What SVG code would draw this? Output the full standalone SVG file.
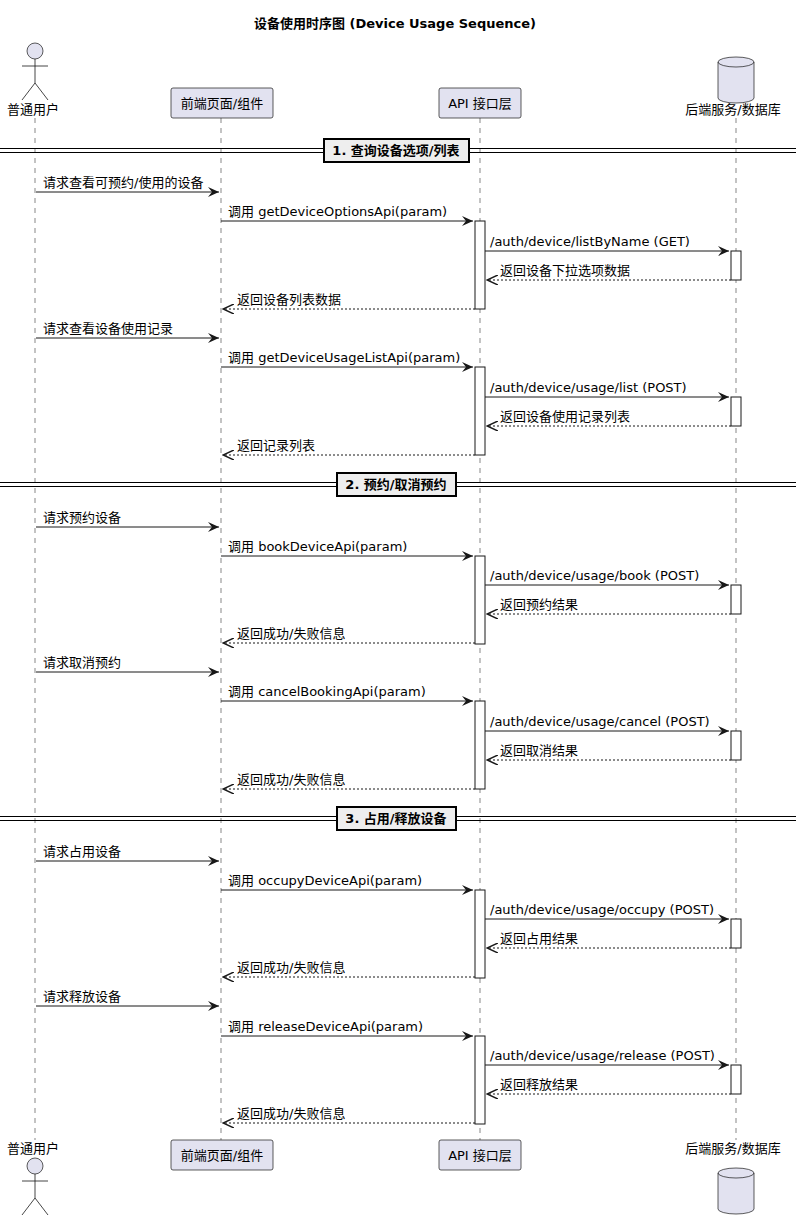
<svg xmlns="http://www.w3.org/2000/svg" width="796" height="1221" viewBox="0 0 796 1221">
<style>
text{font-family:"DejaVu Sans","Noto Sans CJK SC",sans-serif;font-size:13px;fill:#000}
.t{font-weight:bold;font-size:13px}
.life{stroke:#555;stroke-dasharray:5,5;stroke-width:0.7;fill:none}
.part{fill:#E2E2F0;stroke:#181818;stroke-width:0.7}
.act{fill:#fff;stroke:#181818;stroke-width:1}
.m{stroke:#181818;stroke-width:1;fill:none;marker-end:url(#a)}
.r{stroke:#181818;stroke-width:1;fill:none;stroke-dasharray:2,2;marker-end:url(#b)}
.sep{stroke:#000;stroke-width:1}
.sb{fill:#EEEEEE;stroke:#000;stroke-width:2}
</style>
<defs>
<marker id="a" markerWidth="12" markerHeight="10" refX="11" refY="5" orient="auto" markerUnits="userSpaceOnUse"><path d="M0,0 L11,5 L0,10 L4,5 Z" fill="#181818"/></marker>
<marker id="b" markerWidth="12" markerHeight="10" refX="11" refY="5" orient="auto" markerUnits="userSpaceOnUse"><path d="M0,0 L11,5 L0,10" fill="none" stroke="#181818" stroke-width="1.5"/></marker>
</defs>
<rect width="796" height="1221" fill="#fff"/>
<text class="t" x="395" y="28" text-anchor="middle">设备使用时序图 (Device Usage Sequence)</text>
<g id="lifelines">
<line class="life" x1="35" y1="118" x2="35" y2="1140"/>
<line class="life" x1="221" y1="118" x2="221" y2="1140"/>
<line class="life" x1="480" y1="118" x2="480" y2="1140"/>
<line class="life" x1="736" y1="118" x2="736" y2="1140"/>
</g>
<g id="user">
<circle class="part" cx="35" cy="51" r="8"/><path d="M35,59 V83 M22,66 H48 M35,83 L22,100 M35,83 L48,100" stroke="#181818" fill="none" stroke-width="0.8"/>
<text x="33" y="114" text-anchor="middle">普通用户</text>
<text x="33" y="1153" text-anchor="middle">普通用户</text>
<circle class="part" cx="35" cy="1166" r="8"/><path d="M35,1174 V1198 M22,1181 H48 M35,1198 L22,1215 M35,1198 L48,1215" stroke="#181818" fill="none" stroke-width="0.8"/>
</g>
<g id="frontend">
<rect class="part" x="171" y="88" width="102" height="30" rx="2"/><text x="222" y="108" text-anchor="middle">前端页面/组件</text>
<rect class="part" x="171" y="1140" width="102" height="30" rx="2"/><text x="222" y="1160" text-anchor="middle">前端页面/组件</text>
</g>
<g id="api">
<rect class="part" x="439" y="88" width="82" height="30" rx="2"/><text x="480" y="108" text-anchor="middle">API 接口层</text>
<rect class="part" x="439" y="1140" width="82" height="30" rx="2"/><text x="480" y="1160" text-anchor="middle">API 接口层</text>
</g>
<g id="backend">
<path class="part" d="M718,62 A18,5 0 0 1 754,62 V98 A18,5 0 0 1 718,98 Z"/><path d="M718,62 A18,5 0 0 0 754,62" fill="none" stroke="#181818" stroke-width="0.7"/>
<text x="733" y="114" text-anchor="middle">后端服务/数据库</text>
<text x="733" y="1153" text-anchor="middle">后端服务/数据库</text>
<path class="part" d="M718,1173 A18,5 0 0 1 754,1173 V1209 A18,5 0 0 1 718,1209 Z"/><path d="M718,1173 A18,5 0 0 0 754,1173" fill="none" stroke="#181818" stroke-width="0.7"/>
</g>
<g id="activations">
<rect class="act" x="475" y="221" width="10" height="88"/><rect class="act" x="731" y="251" width="10" height="29"/>
<rect class="act" x="475" y="367" width="10" height="88"/><rect class="act" x="731" y="397" width="10" height="29"/>
<rect class="act" x="475" y="556" width="10" height="88"/><rect class="act" x="731" y="585" width="10" height="29"/>
<rect class="act" x="475" y="701" width="10" height="88"/><rect class="act" x="731" y="731" width="10" height="29"/>
<rect class="act" x="475" y="890" width="10" height="88"/><rect class="act" x="731" y="919" width="10" height="29"/>
<rect class="act" x="475" y="1036" width="10" height="88"/><rect class="act" x="731" y="1065" width="10" height="29"/>
</g>
<g id="dividers">
<path class="sep" d="M0,148.5 H796 M0,152.5 H796 M0,482.5 H796 M0,486.5 H796 M0,816.5 H796 M0,820.5 H796"/>
<rect class="sb" x="324" y="139" width="145" height="23"/><text class="t" x="396" y="155" text-anchor="middle">1. 查询设备选项/列表</text>
<rect class="sb" x="337" y="473" width="119" height="23"/><text class="t" x="396" y="489" text-anchor="middle">2. 预约/取消预约</text>
<rect class="sb" x="337" y="807" width="119" height="23"/><text class="t" x="396" y="823" text-anchor="middle">3. 占用/释放设备</text>
</g>
<g id="connectors">
<line class="m" x1="36" y1="192" x2="219" y2="192"/><text x="43" y="187">请求查看可预约/使用的设备</text>
<line class="m" x1="221" y1="221" x2="473" y2="221"/><text x="228" y="216">调用 getDeviceOptionsApi(param)</text>
<line class="m" x1="485" y1="251" x2="729" y2="251"/><text x="490" y="246">/auth/device/listByName (GET)</text>
<line class="r" x1="731" y1="280" x2="487" y2="280"/><text x="500" y="275">返回设备下拉选项数据</text>
<line class="r" x1="475" y1="309" x2="223" y2="309"/><text x="237" y="304">返回设备列表数据</text>
<line class="m" x1="36" y1="338" x2="219" y2="338"/><text x="43" y="333">请求查看设备使用记录</text>
<line class="m" x1="221" y1="367" x2="473" y2="367"/><text x="228" y="362">调用 getDeviceUsageListApi(param)</text>
<line class="m" x1="485" y1="397" x2="729" y2="397"/><text x="490" y="392">/auth/device/usage/list (POST)</text>
<line class="r" x1="731" y1="426" x2="487" y2="426"/><text x="500" y="421">返回设备使用记录列表</text>
<line class="r" x1="475" y1="455" x2="223" y2="455"/><text x="237" y="450">返回记录列表</text>
<line class="m" x1="36" y1="527" x2="219" y2="527"/><text x="43" y="522">请求预约设备</text>
<line class="m" x1="221" y1="556" x2="473" y2="556"/><text x="228" y="551">调用 bookDeviceApi(param)</text>
<line class="m" x1="485" y1="585" x2="729" y2="585"/><text x="490" y="580">/auth/device/usage/book (POST)</text>
<line class="r" x1="731" y1="614" x2="487" y2="614"/><text x="500" y="609">返回预约结果</text>
<line class="r" x1="475" y1="643" x2="223" y2="643"/><text x="237" y="638">返回成功/失败信息</text>
<line class="m" x1="36" y1="672" x2="219" y2="672"/><text x="43" y="667">请求取消预约</text>
<line class="m" x1="221" y1="701" x2="473" y2="701"/><text x="228" y="696">调用 cancelBookingApi(param)</text>
<line class="m" x1="485" y1="731" x2="729" y2="731"/><text x="490" y="726">/auth/device/usage/cancel (POST)</text>
<line class="r" x1="731" y1="760" x2="487" y2="760"/><text x="500" y="755">返回取消结果</text>
<line class="r" x1="475" y1="789" x2="223" y2="789"/><text x="237" y="784">返回成功/失败信息</text>
<line class="m" x1="36" y1="861" x2="219" y2="861"/><text x="43" y="856">请求占用设备</text>
<line class="m" x1="221" y1="890" x2="473" y2="890"/><text x="228" y="885">调用 occupyDeviceApi(param)</text>
<line class="m" x1="485" y1="919" x2="729" y2="919"/><text x="490" y="914">/auth/device/usage/occupy (POST)</text>
<line class="r" x1="731" y1="948" x2="487" y2="948"/><text x="500" y="943">返回占用结果</text>
<line class="r" x1="475" y1="977" x2="223" y2="977"/><text x="237" y="972">返回成功/失败信息</text>
<line class="m" x1="36" y1="1006" x2="219" y2="1006"/><text x="43" y="1001">请求释放设备</text>
<line class="m" x1="221" y1="1036" x2="473" y2="1036"/><text x="228" y="1031">调用 releaseDeviceApi(param)</text>
<line class="m" x1="485" y1="1065" x2="729" y2="1065"/><text x="490" y="1060">/auth/device/usage/release (POST)</text>
<line class="r" x1="731" y1="1094" x2="487" y2="1094"/><text x="500" y="1089">返回释放结果</text>
<line class="r" x1="475" y1="1123" x2="223" y2="1123"/><text x="237" y="1118">返回成功/失败信息</text>
</g>
</svg>
